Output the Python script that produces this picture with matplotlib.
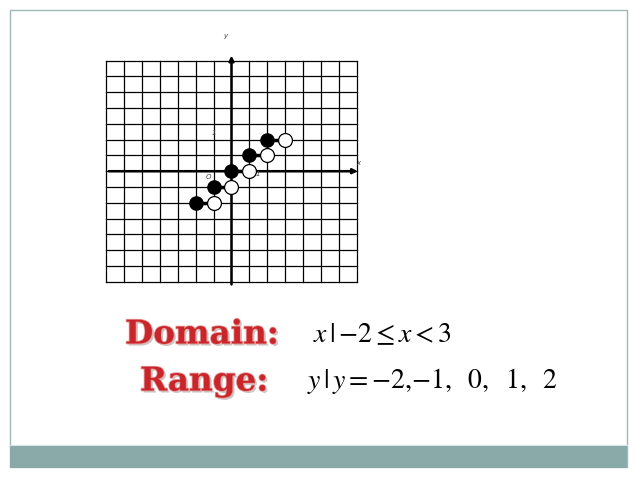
import matplotlib
matplotlib.use("Agg")
import matplotlib.pyplot as plt
import matplotlib.patheffects as pe
from matplotlib.patches import Rectangle

# step function y = floor(x) on -2 <= x < 3
step_start = [-2, -1, 0, 1, 2]
step_end = [-1, 0, 1, 2, 3]
step_y = [-2, -1, 0, 1, 2]

grid_ticks = list(range(-7, 8))
domain_text = r"$x\,|\,{-2}\leq x<3$"
range_text = r"$y\,|\,y={-2}{,}{-1}{,}\ \ \,0{,}\ \ \,1{,}\ \ \,2$"

W, H = 638, 478
fig = plt.figure(figsize=(W / 100, H / 100), dpi=100)
fig.patch.set_facecolor("white")
plt.rcParams["mathtext.fontset"] = "stix"

# slide frame and bottom bar
bg = fig.add_axes([0, 0, 1, 1])
bg.set_xlim(0, W)
bg.set_ylim(H, 0)
bg.axis("off")
bg.add_patch(Rectangle((10, 10), 617, 457, fill=False, edgecolor="#9fb8b7", lw=1.0))
bg.add_patch(Rectangle((10, 445), 617, 22.5, facecolor="#89aaa9", edgecolor="none"))
bg.plot([10, 627], [444.5, 444.5], color="#d8e4e3", lw=0.8)

# coordinate grid
sx = 251 / 14
sy = 221 / 14
x0, x1 = -7.5, 7.5
y0, y1 = -7.6, 8.0
left = 106 + (x0 + 7) * sx
bottom_px = 281.7 - (y0 + 7) * sy
ax = fig.add_axes([left / W, (H - bottom_px) / H, (x1 - x0) * sx / W, (y1 - y0) * sy / H])
ax.set_xlim(x0, x1)
ax.set_ylim(y0, y1)
ax.axis("off")

for t in grid_ticks:
    ax.plot([t, t], [-7, 7], color="black", lw=0.9, zorder=1)
    ax.plot([-7, 7], [t, t], color="black", lw=0.9, zorder=1)

ax.annotate("", xy=(0, 7.5), xytext=(0, -7.35),
            arrowprops=dict(arrowstyle="-|>", color="black", lw=1.8, mutation_scale=7), zorder=2)
ax.annotate("", xy=(7.2, 0), xytext=(-7, 0),
            arrowprops=dict(arrowstyle="-|>", color="black", lw=1.8, mutation_scale=7), zorder=2)

for xs, xe, yv in zip(step_start, step_end, step_y):
    ax.plot([xs, xe], [yv, yv], color="black", lw=2.5, zorder=3)
    ax.plot(xs, yv, "o", ms=9.5, mfc="black", mec="black", zorder=4)
    ax.plot(xe, yv, "o", ms=10, mfc="white", mec="black", mew=0.9, zorder=4)

lab = dict(fontsize=5, color="#444444", style="italic", ha="center", va="center", clip_on=False)
ax.text(-0.36, 8.56, "y", **lab)
ax.text(7.05, 0.52, "x", **lab)
ax.text(-0.98, 2.42, "1", **lab)
ax.text(-1.26, -0.37, "O", **lab)
ax.text(1.48, -0.18, "1", **lab)

# word-art headings
word = dict(fontsize=23.5, fontweight="bold", family="DejaVu Serif", color="#c8262b",
            va="center", ha="left",
            path_effects=[pe.withSimplePatchShadow(offset=(1.5, -1.5), shadow_rgbFace="#bbbbbb", alpha=0.8),
                          pe.withStroke(linewidth=1.2, foreground="#e89a9a")])
bg.text(125, 334, "Domain:", **word)
bg.text(140, 381, "Range:", **word)

bg.text(313, 334, domain_text, fontsize=20, va="center", ha="left", color="black")
bg.text(307, 381, range_text, fontsize=20, va="center", ha="left", color="black")

fig.savefig("out.png", dpi=100)
